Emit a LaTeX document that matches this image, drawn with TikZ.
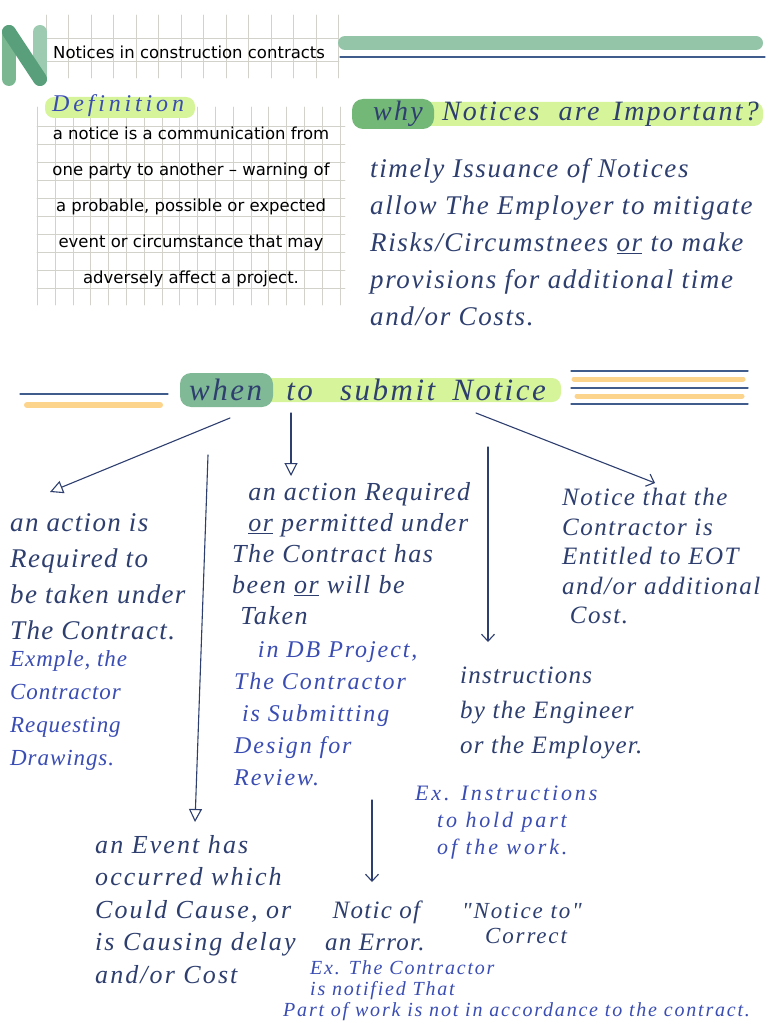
\documentclass[tikz,border=0pt]{standalone}
\usepackage{fontspec}
\usepackage{xcolor}
\usepackage{tikz}
\usetikzlibrary{arrows.meta,positioning,calc}
\newfontfamily\handfont{Liberation Serif}
\newfontfamily\typefont{DejaVu Sans}
\definecolor{inknavy}{HTML}{2E3F6F}
\definecolor{inkblue}{HTML}{3A4DB3}
\definecolor{mint}{HTML}{94C5A9}
\definecolor{ngreen}{HTML}{5A9F7B}
\definecolor{nmid}{HTML}{7BB892}
\definecolor{nlight}{HTML}{9DCBB1}
\definecolor{lime}{HTML}{D6F59A}
\definecolor{blobgreen}{HTML}{74B877}
\definecolor{blobteal}{HTML}{80B995}
\definecolor{peach}{HTML}{FDD48C}
\definecolor{gridgray}{HTML}{D2D2CA}
\definecolor{rulenavy}{HTML}{3F5C8C}
\tikzset{
    every picture/.style={line cap=round,line join=round},
    gridline/.style={draw=gridgray,line width=0.8pt},
    hand/.style n args={3}{font=\handfont\itshape\addfontfeature{LetterSpace=#3}\fontsize{#1}{#2}\selectfont,
      align=left,anchor=north west,inner sep=0pt,text=inknavy},
    typed/.style={font=\typefont\fontsize{16.5}{36}\selectfont,text=black,inner sep=0pt},
    hilite/.style={fill=lime,rounded corners=9pt},
    inkarrow/.style={draw=inknavy,line width=1.1pt},
    tri/.style={inkarrow,-{Triangle[open,length=13pt,width=13pt,line width=1.1pt]}},
    barb/.style={inkarrow,-{Straight Barb[length=7pt,width=13pt]}}
}
\begin{document}
\begin{tikzpicture}[x=1pt,y=-1pt]
  \useasboundingbox[fill=white] (0,0) rectangle (768,1024);
  % grid paper
  \foreach \i in {0,...,13} \draw[gridline] (46+22.5*\i,15) -- (46+22.5*\i,78);
  \foreach \y in {38,61} \draw[gridline] (46,\y) -- (339,\y);
  \foreach \i in {0,...,17} \draw[gridline] (37.3+17.8*\i,107) -- (37.3+17.8*\i,305);
  \foreach \i in {0,...,9} \draw[gridline] (37,126+18*\i) -- (345,126+18*\i);
  % logo and header
  \draw[nmid,line width=14pt] (9,32) -- (9,79);
  \draw[nlight,line width=14pt] (40,32) -- (40,79);
  \draw[ngreen,line width=14pt] (9,32) -- (40,79);
  \node[typed,anchor=west] (title) at (53,52) {Notices in construction contracts};
  \draw[mint,line width=14pt] (345,43) -- (756,43);
  \draw[rulenavy,line width=1.2pt] (340,57) -- (765,57);
  % definition
  \fill[hilite] (45,97) rectangle (195,118);
  \node[hand={24}{26}{16},text=inkblue,anchor=west] (defhd) at (52,106) {Definition};
  \node[typed,align=center] (deftxt) at (191,207) {a notice is a communication from\\
    one party to another \textendash\ warning of\\a probable, possible or expected\\
    event or circumstance that may\\adversely affect a project.};
  % why
  \fill[hilite] (355,102) rectangle (763,126);
  \fill[blobgreen,rounded corners=11pt] (352,99) rectangle (434,129);
  \node[hand={28}{30}{8},anchor=west] (whyhd) at (373,114)
    {why\hspace{10pt} Notices\hspace{10pt} are\hspace{4pt} Important?};
  \node[hand={27}{37}{6}] (whytxt) at (370,158) {timely Issuance of Notices\\
    allow The Employer to mitigate\\Risks/Circumstnees \underline{or} to make\\
    provisions for additional time\\and/or Costs.};
  % when
  \fill[hilite] (183,378) rectangle (561,402);
  \fill[blobteal,rounded corners=11pt] (180,373) rectangle (273,407);
  \node[hand={31}{32}{8},anchor=west] (whenhd) at (189,390)
    {when\hspace{14pt} to\hspace{17pt} submit\hspace{7pt} Notice};
  \draw[rulenavy,line width=1.3pt] (20,394) -- (168,394);
  \draw[peach,line width=6pt] (27,405) -- (160,405);
  \foreach \y in {371,388,404} \draw[rulenavy,line width=1.3pt] (571,\y) -- (748,\y);
  \draw[peach,line width=5pt] (574,379) -- (743,379);
  \draw[peach,line width=5pt] (577,396) -- (742,396);
  % cases
  \node[hand={27}{36}{5}] (actreq) at (10,513) {an action is\\Required to\\be taken under\\The Contract.};
  \node[hand={23}{33}{4},text=inkblue] (actreqex) at (10,650) {Exmple, the\\Contractor\\Requesting\\Drawings.};
  \node[hand={26}{31}{6}] (actperm) at (232,482) {\ \ an action Required\\\ \ \underline{or} permitted under\\
    The Contract has\\been \underline{or} will be\\\ Taken};
  \node[hand={24}{32}{8},text=inkblue] (actpermex) at (234,641) {\ \ \ in DB Project,\\The Contractor\\
    \ is Submitting\\Design for\\Review.};
  \node[hand={25}{29.5}{6}] (entitled) at (562,488) {Notice that the\\Contractor is\\
    Entitled to EOT\\and/or additional\\\ Cost.};
  \node[hand={25}{35}{5}] (instr) at (460,667) {instructions\\by the Engineer\\or the Employer.};
  \node[hand={22}{27}{13},text=inkblue] (instrex) at (415,786) {Ex. Instructions\\
    \quad to hold part\\\quad of the work.};
  \node[hand={26}{32.5}{8}] (event) at (95,835) {an Event has\\occurred which\\
    Could Cause, or\\is Causing delay\\and/or Cost};
  \node[hand={25}{32}{5}] (errnote) at (325,901) {\ Notic of\\an Error.};
  \node[hand={23}{25}{8}] (correct) at (462,903) {"Notice to"\\\quad Correct};
  \node[hand={20}{21}{9},text=inkblue] (errex) at (310,960) {Ex. The Contractor\\is notified That\\
    \hspace*{-27pt}Part of work is not in accordance to the contract.};
  % arrows
  \coordinate (w1) at (230,418);
  \coordinate (w2) at (291,413);
  \coordinate (w3) at (476,413);
  \coordinate (v1) at (208,455);
  \coordinate (v2) at (488,447);
  \coordinate (v3) at (372,800);
  \draw[tri] (w1) -- ([xshift=40pt,yshift=21pt]actreq.north west);
  \draw[tri] (w2) -- ([xshift=59pt,yshift=6pt]actperm.north west);
  \draw[barb] (w3) -- ([xshift=93pt,yshift=5pt]entitled.north west);
  \draw[tri] (v1) -- ([xshift=100pt,yshift=13pt]event.north west);
  \draw[barb] (v2) -- ([xshift=28pt,yshift=25pt]instr.north west);
  \draw[barb] (v3) -- ([xshift=47pt,yshift=19pt]errnote.north west);
\end{tikzpicture}
\end{document}
